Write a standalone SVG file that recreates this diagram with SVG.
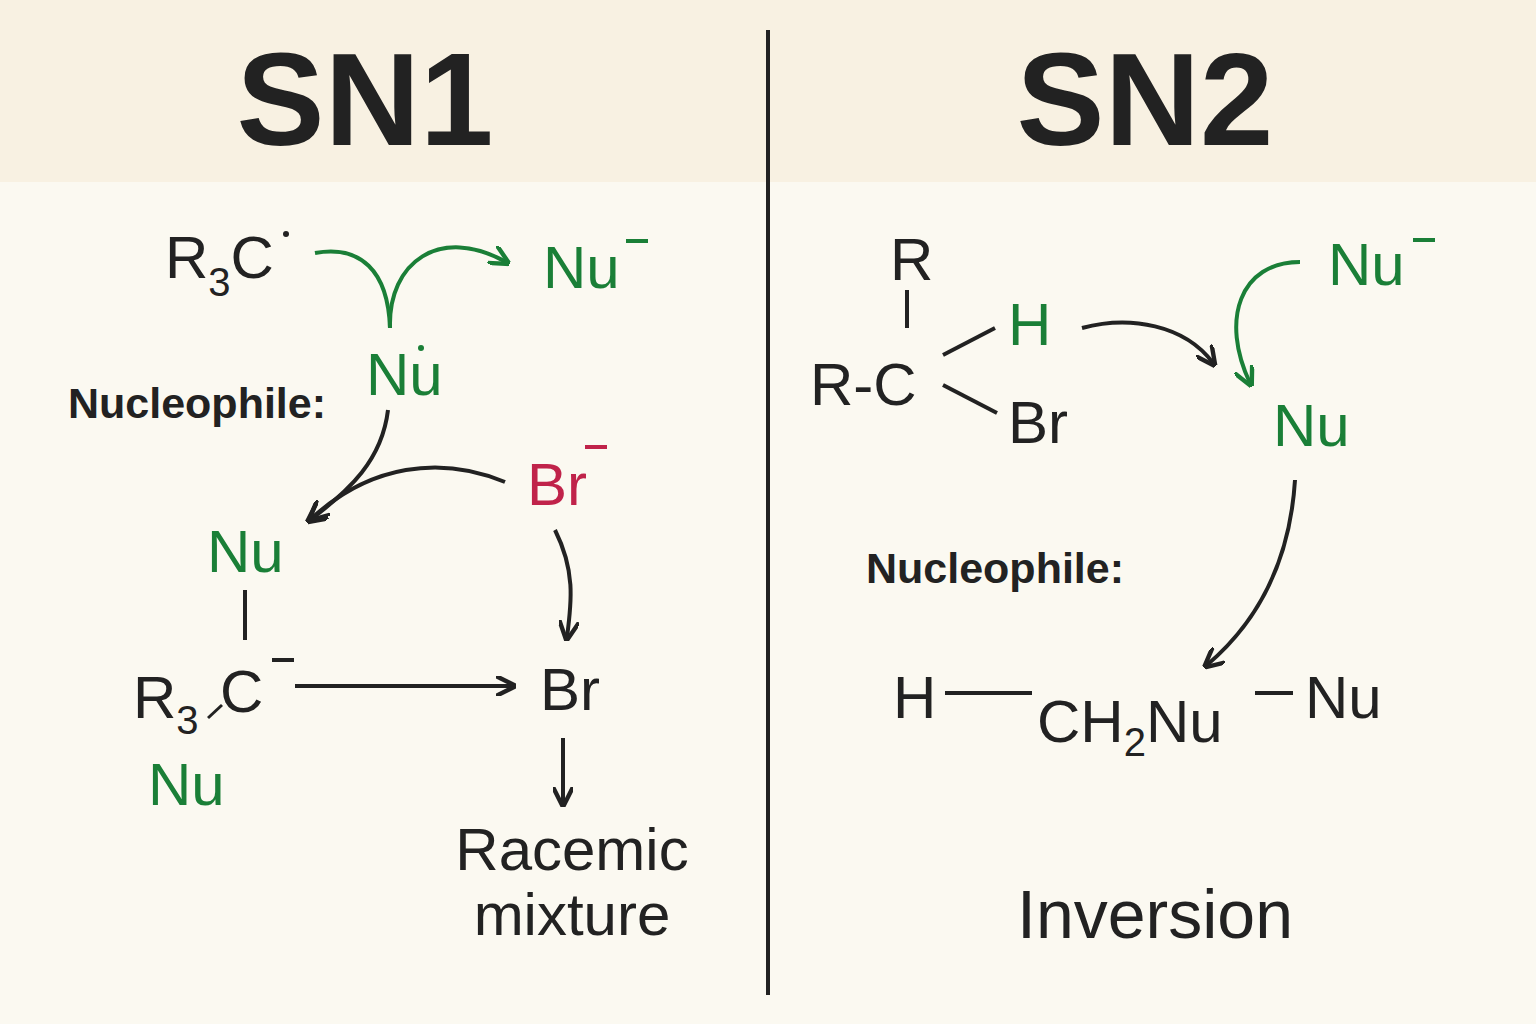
<svg xmlns="http://www.w3.org/2000/svg" width="1536" height="1024" viewBox="0 0 1536 1024">
<defs>
<marker id="ad" viewBox="0 0 10 10" refX="8" refY="5" markerWidth="5" markerHeight="5" orient="auto"><path d="M0,0 L10,5 L0,10" fill="none" stroke="#222" stroke-width="2.2"/></marker>
<marker id="ag" viewBox="0 0 10 10" refX="8" refY="5" markerWidth="5" markerHeight="5" orient="auto"><path d="M0,0 L10,5 L0,10" fill="none" stroke="#1a7f37" stroke-width="2.2"/></marker>
</defs>
<style>
text{font-family:"Liberation Sans","DejaVu Sans",sans-serif;fill:#222}
.h{font-size:132px;font-weight:bold;text-anchor:middle}
.m{font-size:60px}
.g{fill:#1a7f37}
.r{fill:#c0234a}
.l{font-size:43px;font-weight:bold}
.k{stroke:#222;stroke-width:4;fill:none}
.kg{stroke:#1a7f37;stroke-width:4;fill:none}
</style>
<rect width="1536" height="1024" fill="#fbf9f1"/>
<rect width="1536" height="182" fill="#f8f1e2"/>
<line x1="768" y1="30" x2="768" y2="995" stroke="#222" stroke-width="4"/>
<g id="titles"><text class="h" x="365" y="145">SN1</text><text class="h" x="1145" y="145">SN2</text></g>

<g id="r3c-top"><text class="m" x="165" y="278">R<tspan font-size="40" dy="18">3</tspan><tspan dy="-18">C</tspan></text><circle cx="286" cy="234" r="3" fill="#222"/></g>
<g id="nu-top"><text class="m g" x="543" y="288">Nu</text><line x1="626" y1="241" x2="648" y2="241" stroke="#1a7f37" stroke-width="4"/></g>
<g id="nu-mid"><text class="m g" x="366" y="395" font-size="56">Nu</text><circle cx="421" cy="348" r="3" fill="#1a7f37"/></g>
<g id="nuc1"><text class="l" x="68" y="418">Nucleophile:</text></g>
<g id="br-red"><text class="m r" x="527" y="505">Br</text><line x1="585" y1="447" x2="607" y2="447" stroke="#c0234a" stroke-width="4"/></g>
<g id="nu-l"><text class="m g" x="207" y="572">Nu</text></g>
<g id="r3c-bot"><line x1="245" y1="590" x2="245" y2="640" class="k"/><text class="m" x="133" y="718">R<tspan font-size="40" dy="16">3</tspan></text><text class="m" x="220" y="712">C</text><line x1="208" y1="718" x2="222" y2="705" stroke="#222" stroke-width="3"/><line x1="272" y1="660" x2="294" y2="660" class="k"/></g>
<g id="br-dark"><text class="m" x="540" y="710">Br</text></g>
<g id="nu-bl"><text class="m g" x="148" y="805">Nu</text></g>
<g id="racemic"><text class="m" x="572" y="870" text-anchor="middle">Racemic</text><text class="m" x="572" y="935" text-anchor="middle">mixture</text></g>

<g id="sn2-sub"><text class="m" x="890" y="280">R</text><line x1="907" y1="290" x2="907" y2="328" class="k"/><text class="m" x="810" y="405">R-C</text><line x1="943" y1="355" x2="995" y2="328" class="k"/><line x1="943" y1="385" x2="997" y2="413" class="k"/><text class="m g" x="1008" y="345">H</text><text class="m" x="1008" y="443">Br</text></g>
<g id="nu-r1"><text class="m g" x="1328" y="285">Nu</text><line x1="1413" y1="240" x2="1435" y2="240" stroke="#1a7f37" stroke-width="4"/></g>
<g id="nu-r2"><text class="m g" x="1273" y="446">Nu</text></g>
<g id="nuc2"><text class="l" x="866" y="583">Nucleophile:</text></g>
<g id="product"><text class="m" x="893" y="718">H</text><line x1="945" y1="693" x2="1032" y2="693" class="k"/><text class="m" x="1037" y="742">CH<tspan font-size="40" dy="14">2</tspan><tspan dy="-14">Nu</tspan></text><line x1="1255" y1="693" x2="1293" y2="693" class="k"/><text class="m" x="1305" y="718">Nu</text></g>
<g id="inversion"><text x="1155" y="938" font-size="68" text-anchor="middle">Inversion</text></g>

<g id="connectors">
<path class="kg" d="M315,253 C360,245 388,270 390,328"/>
<path class="kg" marker-end="url(#ag)" d="M390,328 C388,262 440,225 506,262"/>
<path class="k" marker-end="url(#ad)" d="M388,410 C382,460 350,490 310,520"/>
<path class="k" marker-end="url(#ad)" d="M505,482 C440,455 370,465 312,518"/>
<path class="k" marker-end="url(#ad)" d="M555,530 C575,570 572,600 567,637"/>
<path class="k" marker-end="url(#ad)" d="M295,686 L512,686"/>
<path class="k" marker-end="url(#ad)" d="M563,738 L563,803"/>
<path class="k" marker-end="url(#ad)" d="M1082,328 C1130,315 1185,325 1213,363"/>
<path class="kg" marker-end="url(#ag)" d="M1300,262 C1240,262 1220,320 1250,383"/>
<path class="k" marker-end="url(#ad)" d="M1295,480 C1290,560 1260,620 1207,665"/>
</g>
</svg>
